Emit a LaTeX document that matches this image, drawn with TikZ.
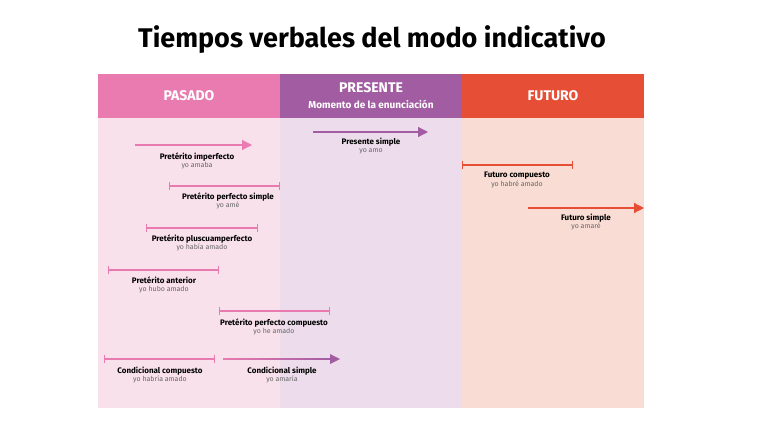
\documentclass[tikz,border=0pt]{standalone}
\usepackage{fontspec}
\setmainfont{Fira Sans}
\usetikzlibrary{arrows.meta}
\definecolor{pk}{HTML}{E97BB0}
\definecolor{pkb}{HTML}{F9E1EC}
\definecolor{pu}{HTML}{A25CA2}
\definecolor{pub}{HTML}{EDDDEC}
\definecolor{or}{HTML}{E64E35}
\definecolor{orb}{HTML}{F9DCD3}
\definecolor{gr}{HTML}{666666}
\tikzset{
 hdr/.style={text=white,font=\bfseries\fontsize{14}{15}\selectfont},
 lab/.style={align=center,font=\fontsize{8}{9.5}\selectfont,inner sep=0pt},
 bar/.style={line width=1.2pt,{Bar[width=8pt]}-{Bar[width=8pt]}},
 arr/.style={line width=1.2pt,-{Triangle[length=10pt,width=10pt]}},
}
\newcommand{\tl}[2]{\textbf{#1}\\[-1pt]{\color{gr}\fontsize{7}{8}\selectfont #2}}
\begin{document}
\begin{tikzpicture}[x=1pt,y=-1pt]
\useasboundingbox[fill=white] (0,0) rectangle (768,433);
\fill[pkb] (98,118) rectangle (280,408);
\fill[pub] (280,118) rectangle (462,408);
\fill[orb] (462,118) rectangle (644,408);
\fill[pk] (98,74) rectangle (280,118);
\fill[pu] (280,74) rectangle (462,118);
\fill[or] (462,74) rectangle (644,118);
\node[font=\bfseries\fontsize{27}{30}\selectfont] (title) at (372,40) {Tiempos verbales del modo indicativo};
\node[hdr] (pas) at (189,96) {PASADO};
\node[hdr] (pre) at (371,88) {PRESENTE};
\node[text=white,font=\bfseries\fontsize{10}{11}\selectfont] (mom) at (371,104) {Momento de la enunciación};
\node[hdr] (fut) at (553,96) {FUTURO};
% pasado
\coordinate (a1) at (135,145); \coordinate (a2) at (252,145);
\draw[arr,pk] (a1) -- (a2);
\node[lab] (l1) at (197,161) {\tl{Pretérito imperfecto}{yo amaba}};
\coordinate (b1) at (169,186); \coordinate (b2) at (280,186);
\draw[bar,pk] (b1) -- (b2);
\node[lab] (l2) at (228,201) {\tl{Pretérito perfecto simple}{yo amé}};
\coordinate (c1) at (146,228); \coordinate (c2) at (258,228);
\draw[bar,pk] (c1) -- (c2);
\node[lab] (l3) at (202,243) {\tl{Pretérito pluscuamperfecto}{yo había amado}};
\coordinate (d1) at (108,270); \coordinate (d2) at (219,270);
\draw[bar,pk] (d1) -- (d2);
\node[lab] (l4) at (164,285) {\tl{Pretérito anterior}{yo hubo amado}};
\coordinate (e1) at (219,311); \coordinate (e2) at (330,311);
\draw[bar,pk] (e1) -- (e2);
\node[lab] (l5) at (274,327) {\tl{Pretérito perfecto compuesto}{yo he amado}};
\coordinate (f1) at (104,359); \coordinate (f2) at (215,359);
\draw[bar,pk] (f1) -- (f2);
\node[lab] (l6) at (160,375) {\tl{Condicional compuesto}{yo habría amado}};
\coordinate (g1) at (223,359); \coordinate (g2) at (340,359);
\shade[left color=pk,right color=pu] (223,358.4) rectangle (331,359.6);
\fill[pu] (g2) -- (330,354) -- (330,364) -- cycle;
\node[lab] (l7) at (282,375) {\tl{Condicional simple}{yo amaría}};
% presente
\coordinate (h1) at (313,132); \coordinate (h2) at (428,132);
\draw[arr,pu] (h1) -- (h2);
\node[lab] (l8) at (371,146) {\tl{Presente simple}{yo amo}};
% futuro
\coordinate (i1) at (462,165); \coordinate (i2) at (573,165);
\draw[bar,or] (i1) -- (i2);
\node[lab] (l9) at (517,180) {\tl{Futuro compuesto}{yo habré amado}};
\coordinate (j1) at (528,208); \coordinate (j2) at (644,208);
\draw[arr,or] (j1) -- (j2);
\node[lab] (l10) at (586,222) {\tl{Futuro simple}{yo amaré}};
\end{tikzpicture}
\end{document}
